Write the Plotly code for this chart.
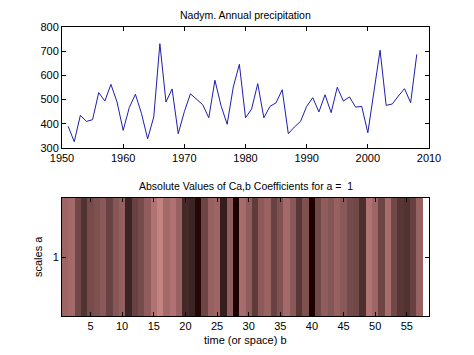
import plotly.graph_objects as go
import numpy as np

years = list(range(1951, 2009))
precip = [390, 326, 435, 410, 417, 529, 494, 563, 490, 373,
          467, 522, 442, 338, 428, 731, 490, 544, 359, 450,
          524, 502, 479, 425, 580, 475, 398, 552, 646, 425,
          461, 566, 425, 472, 487, 541, 359, 387, 410, 472,
          508, 449, 520, 446, 551, 494, 511, 469, 472, 363,
          538, 704, 476, 482, 515, 545, 487, 687]

positions_b = list(range(1, 59))
coef_abs = [0.24, 0.26, 0.12, 0.06, 0.13, 0.15, 0.18, 0.10, 0.17, 0.21,
            0.03, 0.10, 0.13, 0.20, 0.30, 0.38, 0.26, 0.30, 0.22, 0.04,
            0.03, 0.005, 0.11, 0.22, 0.24, 0.02, 0.20, 0.0, 0.27, 0.20,
            0.08, 0.19, 0.23, 0.10, 0.16, 0.26, 0.18, 0.07, 0.15, 0.0,
            0.12, 0.20, 0.17, 0.22, 0.18, 0.13, 0.12, 0.05, 0.30, 0.24,
            0.11, 0.27, 0.12, 0.07, 0.06, 0.10, 0.22, 1.0]

top_xticks = [1950, 1960, 1970, 1980, 1990, 2000, 2010]
top_yticks = [300, 400, 500, 600, 700, 800]
bot_xticks = [5, 10, 15, 20, 25, 30, 35, 40, 45, 50, 55]

# MATLAB "pink" colormap
def pink_scale(n=64):
    m = n
    k = int(3 * m / 8)
    r = [min(1.0, (i + 1) / k) for i in range(m)]
    g = [0.0 if i < k else min(1.0, (i + 1 - k) / k) for i in range(m)]
    b = [0.0 if i < 2 * k else (i + 1 - 2 * k) / (m - 2 * k) for i in range(m)]
    scale = []
    for i in range(m):
        gr = i / (m - 1)
        rr = np.sqrt((2 * gr + r[i]) / 3)
        gg = np.sqrt((2 * gr + g[i]) / 3)
        bb = np.sqrt((2 * gr + b[i]) / 3)
        scale.append([i / (m - 1), f"rgb({int(rr*255)},{int(gg*255)},{int(bb*255)})"])
    return scale

FONT = "Liberation Sans, Arial, sans-serif"

fig = go.Figure()
fig.add_trace(go.Scatter(x=years, y=precip, mode="lines",
                         line=dict(color="rgb(30,30,170)", width=1),
                         xaxis="x", yaxis="y", showlegend=False))
fig.add_trace(go.Heatmap(x=positions_b, y=[1], z=[coef_abs],
                         colorscale=pink_scale(), zmin=0, zmax=1,
                         showscale=False, xaxis="x2", yaxis="y2"))

W, H = 474, 355
L, R, T, B = 62, 474 - 429, 27, 355 - 316
PW, PH = W - L - R, H - T - B

def px_x(x):
    return (x - L) / PW

def px_y(y):
    return (H - B - y) / PH

axis_common = dict(showline=True, linecolor="black", linewidth=1, mirror="ticks",
                   ticks="inside", ticklen=4, tickcolor="black", showgrid=False,
                   zeroline=False, automargin=False,
                   tickfont=dict(family=FONT, size=11, color="black"))

fig.update_layout(
    width=W, height=H,
    margin=dict(l=L, r=R, t=T, b=B, pad=0),
    paper_bgcolor="white", plot_bgcolor="white",
    font=dict(family=FONT, size=11, color="black"),
    xaxis=dict(domain=[0, 1], anchor="y", range=[1950, 2010], tickvals=top_xticks, **axis_common),
    yaxis=dict(domain=[px_y(148), 1], anchor="x", range=[300, 800], tickvals=top_yticks, **axis_common),
    xaxis2=dict(domain=[0, 1], anchor="y2", range=[0.5, 58.5], tickvals=bot_xticks, **axis_common),
    yaxis2=dict(domain=[0, px_y(198)], anchor="x2", range=[0.5, 1.5], tickvals=[1], **axis_common),
    annotations=[
        dict(text="Nadym. Annual precipitation", x=0.5, y=px_y(15),
             xanchor="center", yanchor="middle",
             xref="paper", yref="paper", showarrow=False, font=dict(size=10.5)),
        dict(text="Absolute Values of Ca,b Coefficients for a =  1", x=0.5, y=px_y(186),
             xanchor="center", yanchor="middle",
             xref="paper", yref="paper", showarrow=False, font=dict(size=10.5)),
        dict(text="time (or space) b", x=0.5, y=px_y(340),
             xanchor="center", yanchor="middle",
             xref="paper", yref="paper", showarrow=False, font=dict(size=11)),
        dict(text="scales a", x=px_x(38), y=px_y(257), textangle=-90,
             xanchor="center", yanchor="middle",
             xref="paper", yref="paper", showarrow=False, font=dict(size=11)),
    ],
)

fig.write_html("out.html",
               config={"displayModeBar": False},
               post_script="document.body.style.margin='0px';document.body.style.overflow='hidden';")
